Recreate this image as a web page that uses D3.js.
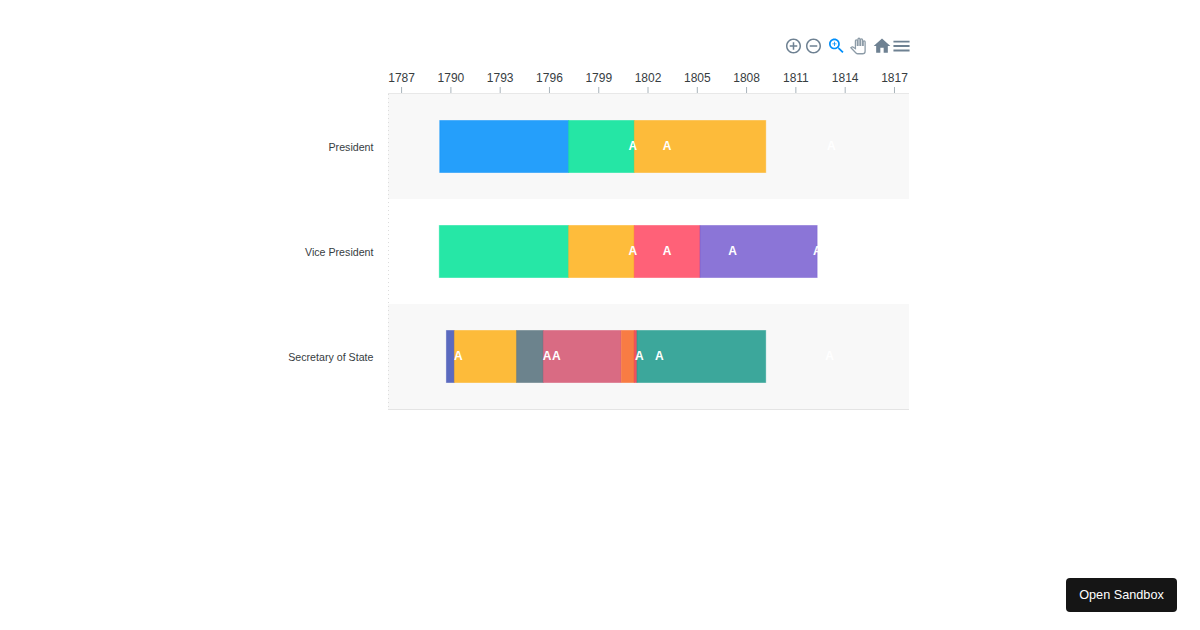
<!DOCTYPE html>
<html>
<head>
<meta charset="utf-8">
<script src="https://cdn.jsdelivr.net/npm/d3@7"></script>
<style>
  html, body { margin: 0; padding: 0; background: #fff; }
  svg { display: block; }
  text { font-family: Helvetica, Arial, "Liberation Sans", sans-serif; }
  .sandbox {
    position: absolute; left: 1066px; top: 578px; width: 111px; height: 34px;
    background: #151515; color: #fff; border-radius: 4px; text-align: center;
    font: 12.7px/34px "Liberation Sans", Arial, sans-serif;
  }
</style>
</head>
<body>
<svg id="chart" width="1200" height="630"></svg>
<div class="sandbox">Open Sandbox</div>
<script>
// Terms of office in the early US cabinet.
const roles = ["President", "Vice President", "Secretary of State"];
const tickYears = [1787, 1790, 1793, 1796, 1799, 1802, 1805, 1808, 1811, 1814, 1817];

const presidentTerms = [
  ["1789-04-30", "1797-03-04", "#008FFB"],
  ["1797-03-04", "1801-03-04", "#00E396"],
  ["1801-03-04", "1809-03-04", "#FEB019"]
];
const viceTerms = [
  ["1789-04-21", "1797-03-04", "#00E396"],
  ["1797-03-04", "1801-03-04", "#FEB019"],
  ["1801-03-04", "1805-03-04", "#FF4560"],
  ["1805-03-04", "1812-04-20", "#775DD0"]
];
const secretaryTerms = [
  ["1789-09-26", "1790-03-22", "#3F51B5"],
  ["1790-03-22", "1793-12-31", "#FEB019"],
  ["1794-01-02", "1795-08-20", "#546E7A"],
  ["1795-08-20", "1800-05-12", "#D4526E"],
  ["1800-05-20", "1801-03-04", "#F86624"],
  ["1801-03-05", "1801-05-01", "#EA3546"],
  ["1801-05-02", "1809-03-03", "#1B998B"]
];
const termsByRole = [presidentTerms, viceTerms, secretaryTerms];

// Clipped name labels: each row's truncated text and the date it sits on.
const presidentLabels = [["1801-02-10", "A"], ["1803-03-10", "A"], ["1813-03-10", "A"]];
const viceLabels = [["1801-02-10", "A"], ["1803-03-10", "A"], ["1807-03-10", "A"], ["1812-05-01", "A"]];
const secretaryLabels = [["1790-06-25", "A"], ["1795-11-20", "A"], ["1796-06-15", "A"],
                         ["1801-07-01", "A"], ["1802-09-20", "A"], ["1813-02-01", "A"]];
const labelsByRole = [presidentLabels, viceLabels, secretaryLabels];

const svg = d3.select("#chart");
const margin = { left: 388, right: 909, top: 94, bottom: 409 };
const parse = d3.utcParse("%Y-%m-%d");

const x = d3.scaleUtc()
  .domain([parse("1786-03-16"), parse("1817-12-01")])
  .range([margin.left, margin.right]);
const y = d3.scaleBand().domain(roles).range([margin.top, margin.bottom]);
const barPad = 26.5;

const defs = svg.append("defs");
defs.append("clipPath").attr("id", "plot-clip").append("rect")
  .attr("x", margin.left).attr("y", margin.top - 1)
  .attr("width", margin.right - margin.left).attr("height", margin.bottom - margin.top + 2);

// Alternating row bands
svg.append("g").selectAll("rect").data(roles).join("rect")
  .attr("x", margin.left).attr("width", margin.right - margin.left)
  .attr("y", d => y(d)).attr("height", y.bandwidth())
  .attr("fill", (d, i) => i % 2 === 0 ? "#f8f8f8" : "#ffffff");

// Plot borders
const borders = svg.append("g").attr("fill", "none");
borders.append("line")
  .attr("x1", margin.left).attr("x2", margin.right)
  .attr("y1", margin.top - 0.5).attr("y2", margin.top - 0.5).attr("stroke", "#e8e8e8");
borders.append("line")
  .attr("x1", margin.left).attr("x2", margin.right)
  .attr("y1", margin.bottom + 0.5).attr("y2", margin.bottom + 0.5).attr("stroke", "#e4e4e4");
borders.append("line")
  .attr("x1", margin.left + 0.5).attr("x2", margin.left + 0.5)
  .attr("y1", margin.top).attr("y2", margin.bottom)
  .attr("stroke", "#dcdcdc").attr("stroke-dasharray", "1 3");

// Top time axis
const axis = d3.axisTop(x)
  .tickValues(tickYears.map(yr => new Date(Date.UTC(yr, 0, 1))))
  .tickFormat(d3.utcFormat("%Y"))
  .tickSize(6).tickPadding(5).offset(0.5);
const axisG = svg.append("g").attr("transform", `translate(0,${margin.top - 1})`).call(axis);
axisG.select(".domain").remove();
axisG.selectAll("line").attr("stroke", "#a8b3ba");
axisG.selectAll("text").attr("font-size", 12).attr("fill", "#373d3f")
  .style("font-family", "Helvetica, Arial, 'Liberation Sans', sans-serif");

// Row labels
svg.append("g").selectAll("text").data(roles).join("text")
  .attr("x", 373.5).attr("y", d => y(d) + y.bandwidth() / 2 + 4)
  .attr("text-anchor", "end").attr("font-size", 10.67).attr("fill", "#373d3f")
  .text(d => d);

// Term bars, nudged onto the pixel grid
const plot = svg.append("g").attr("clip-path", "url(#plot-clip)");
roles.forEach((role, i) => {
  plot.append("g").attr("transform", "translate(0.4,0)")
    .selectAll("rect").data(termsByRole[i]).join("rect")
    .attr("x", d => x(parse(d[0])))
    .attr("width", d => x(parse(d[1])) - x(parse(d[0])))
    .attr("y", y(role) + barPad)
    .attr("height", y.bandwidth() - 2 * barPad)
    .attr("fill", d => d[2]).attr("fill-opacity", 0.85)
    .attr("stroke", d => d[2]).attr("stroke-opacity", 0.45).attr("stroke-width", 1);
});

// Clipped data labels
roles.forEach((role, i) => {
  plot.append("g").selectAll("text").data(labelsByRole[i]).join("text")
    .attr("x", d => x(parse(d[0])))
    .attr("y", y(role) + y.bandwidth() / 2 + 3)
    .attr("text-anchor", "middle").attr("font-size", 12).attr("font-weight", 700)
    .attr("fill", "#fff")
    .text(d => d[1]);
});

// Toolbar icons
const toolbarIcons = [
  { cx: 793.5, size: 18, color: "#6e8192", d: "M13 7h-2v4H7v2h4v4h2v-4h4v-2h-4V7zm-1-5C6.48 2 2 6.48 2 12s4.48 10 10 10 10-4.48 10-10S17.52 2 12 2zm0 18c-4.41 0-8-3.59-8-8s3.59-8 8-8 8 3.59 8 8-3.59 8-8 8z" },
  { cx: 813.5, size: 18, color: "#6e8192", d: "M7 11v2h10v-2H7zm5-9C6.48 2 2 6.48 2 12s4.48 10 10 10 10-4.48 10-10S17.52 2 12 2zm0 18c-4.41 0-8-3.59-8-8s3.59-8 8-8 8 3.59 8 8-3.59 8-8 8z" },
  { cx: 836.5, size: 20, color: "#008ffb", d: "M15.5 14h-.79l-.28-.27C15.41 12.59 16 11.11 16 9.5 16 5.91 13.09 3 9.5 3S3 5.91 3 9.5 5.91 16 9.5 16c1.61 0 3.09-.59 4.23-1.57l.27.28v.79l5 4.99L20.49 19l-4.99-5zm-6 0C7.01 14 5 11.99 5 9.5S7.01 5 9.5 5 14 7.01 14 9.5 11.99 14 9.5 14zM12 10h-2v2H9v-2H7V9h2V7h1v2h2v1z" },
  { cx: 858, size: 15.5, color: "#ffffff", stroke: "#8c9ba7", strokeWidth: 2, d: "M23 5.5V20c0 2.2-1.8 4-4 4h-7.3c-1.08 0-2.1-.43-2.85-1.19L1 14.83s1.26-1.23 1.3-1.25c.22-.19.49-.29.79-.29.22 0 .42.06.6.16.04.01 4.31 2.46 4.31 2.46V4c0-.83.67-1.5 1.5-1.5S11 3.17 11 4v7h1V1.5c0-.83.67-1.5 1.5-1.5S15 .67 15 1.5V11h1V2.5c0-.83.67-1.5 1.5-1.5s1.5.67 1.5 1.5V11h1V5.5c0-.83.67-1.5 1.5-1.5s1.5.67 1.5 1.5z" },
  { cx: 882, size: 20, color: "#6e8192", d: "M10 20v-6h4v6h5v-8h3L12 3 2 12h3v8z" },
  { cx: 901.5, size: 21.5, color: "#6e8192", d: "M3 18h18v-2H3v2zm0-5h18v-2H3v2zm0-7v2h18V6H3z" }
];
svg.append("g").selectAll("path").data(toolbarIcons).join("path")
  .attr("transform", d => `translate(${d.cx - d.size / 2},${46 - d.size / 2}) scale(${d.size / 24})`)
  .attr("d", d => d.d)
  .attr("fill", d => d.color)
  .attr("stroke", d => d.stroke || "none")
  .attr("stroke-width", d => d.strokeWidth || 0);
</script>
</body>
</html>
